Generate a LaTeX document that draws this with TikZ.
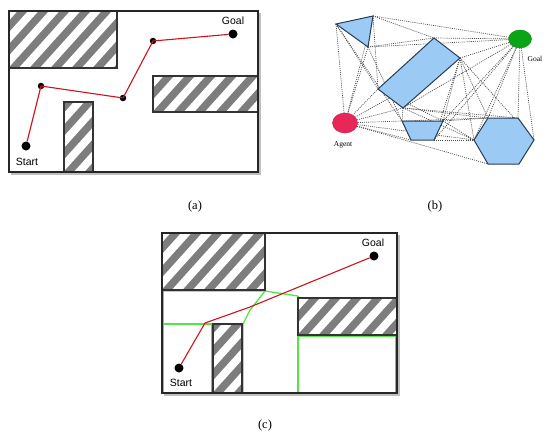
\documentclass[tikz,border=0pt]{standalone}
\usepackage{fontspec}
\usetikzlibrary{shapes.geometric}
\setmainfont{Liberation Serif}
\newfontfamily\mapfont{Liberation Sans}

\definecolor{stripegray}{RGB}{125,125,125}
\definecolor{polyblue}{RGB}{155,203,245}
\definecolor{polyedge}{RGB}{40,60,85}
\definecolor{goalgreen}{RGB}{10,165,20}
\definecolor{agentred}{RGB}{232,38,88}
\definecolor{routered}{RGB}{205,20,30}
\definecolor{cellgreen}{RGB}{80,230,70}

\tikzset{
  hatchline/.style={stripegray, line width=7.5pt},
  blockedge/.style={draw=black!80, line width=1.1pt},
  mapframe/.style={draw=black!85, line width=1.6pt},
  mapshadow/.style={draw=black!25, line width=1.5pt},
  route/.style={draw=routered, line width=1.1pt},
  bigdot/.style={circle, fill=black, inner sep=0pt, minimum size=9pt},
  smalldot/.style={circle, fill=black, inner sep=0pt, minimum size=6.5pt},
  cell/.style={draw=cellgreen, line width=1.3pt},
  visline/.style={draw=black!70, line width=0.7pt, dash pattern=on 1pt off 1.1pt},
  obstacle/.style={fill=polyblue, draw=polyedge, line width=1pt},
  maplabel/.style={font=\mapfont\fontsize{10.5}{11}\selectfont},
  tinylabel/.style={font=\fontsize{7.5}{8}\selectfont},
  caption/.style={font=\fontsize{12.5}{13}\selectfont}
}

% striped block: x1 y1 x2 y2 (y grows downward)
\newcommand{\hatchblock}[4]{%
  \begin{scope}
    \clip (#1,#2) rectangle (#3,#4);
    \fill[white] (#1,#2) rectangle (#3,#4);
    \foreach \s in {-105,-84,...,126}
      \draw[hatchline] (#1+\s,#4+5) -- ++(90,-100);
  \end{scope}
  \draw[blockedge] (#1,#2) rectangle (#3,#4);
}

\begin{document}
\begin{tikzpicture}[x=1pt,y=-1pt]
\useasboundingbox (0,0) rectangle (550,437);

% (a) path through free space
\draw[mapshadow] (11,174) -- (260,174) -- (260,13);
\draw[mapframe, fill=white] (9,11) rectangle (258,172);
\hatchblock{9}{11}{117}{68}
\hatchblock{153}{76}{258}{112}
\hatchblock{64}{102}{93}{172}
\draw[mapframe] (9,11) rectangle (258,172);
\node[bigdot] (aStart) at (26,146) {};
\node[smalldot] (aP1) at (41,86) {};
\node[smalldot] (aP2) at (123,98) {};
\node[smalldot] (aP3) at (153,41) {};
\node[bigdot] (aGoal) at (233,34) {};
\draw[route] (aStart) -- (aP1.center) -- (aP2.center) -- (aP3.center) -- (aGoal);
\node[maplabel] (aStartTxt) at (27,162) {Start};
\node[maplabel] (aGoalTxt) at (233,21) {Goal};
\node[caption] (capA) at (195,206) {(a)};

% (b) visibility graph
\coordinate (t1) at (336,24);
\coordinate (t2) at (373,16);
\coordinate (t3) at (368,47);
\coordinate (r1) at (434,38);
\coordinate (r2) at (460,58);
\coordinate (r3) at (403,108);
\coordinate (r4) at (378,89);
\coordinate (q1) at (402,121);
\coordinate (q2) at (443,121);
\coordinate (q3) at (434,140);
\coordinate (q4) at (411,140);
\coordinate (h1) at (474,140);
\coordinate (h2) at (488,118);
\coordinate (h3) at (518,118);
\coordinate (h4) at (534,140);
\coordinate (h5) at (519,164);
\coordinate (h6) at (488,164);
\node[ellipse, draw=goalgreen!85!black, fill=goalgreen, minimum width=23pt, minimum height=18pt, inner sep=0pt] (bGoal) at (520,39) {};
\node[ellipse, draw=agentred!85!black, fill=agentred, minimum width=25pt, minimum height=20pt, inner sep=0pt] (bAgent) at (345,123) {};
\foreach \u/\v in {t2/bGoal, t2/r1, t3/r1, t3/bGoal, t1/bAgent, t1/r4, t1/q1,
    t2/r4, t2/bAgent, t3/bAgent, t3/q1, r1/bGoal, r2/bGoal, r2/h1, r2/h2,
    r2/h4, r2/q2, r2/q3, r3/q1, r3/h2, r3/h1, r3/bGoal, r4/bAgent,
    bAgent/r3, bAgent/q1, bAgent/q4, bAgent/h6, bAgent/r2, bAgent/h1,
    bGoal/h3, bGoal/h4, bGoal/h2, bGoal/q2, bGoal/h1, bGoal/q3,
    q3/h1, q2/h2, q2/h1, q1/h2, r3/h3, r4/q2}
  \draw[visline] (\u) -- (\v);
\draw[obstacle] (t1) -- (t2) -- (t3) -- cycle;
\draw[obstacle] (r1) -- (r2) -- (r3) -- (r4) -- cycle;
\draw[obstacle] (q1) -- (q2) -- (q3) -- (q4) -- cycle;
\draw[obstacle] (h1) -- (h2) -- (h3) -- (h4) -- (h5) -- (h6) -- cycle;
\node[tinylabel] (bGoalTxt) at (535,59) {Goal};
\node[tinylabel] (bAgentTxt) at (343,145) {Agent};
\node[caption] (capB) at (435,206) {(b)};

% (c) cell decomposition
\draw[mapshadow] (164,395) -- (399,395) -- (399,235);
\draw[mapframe, fill=white] (162,233) rectangle (397,393);
\coordinate (c1) at (163,291);
\coordinate (c2) at (265,291);
\coordinate (c3) at (298,296);
\coordinate (c4) at (250,310);
\coordinate (c5) at (243,324);
\coordinate (c6) at (243,392);
\coordinate (c7) at (163,324);
\coordinate (c8) at (212,324);
\coordinate (c9) at (212,392);
\coordinate (c10) at (163,392);
\coordinate (c11) at (298,392);
\coordinate (c12) at (298,336);
\coordinate (c13) at (396,336);
\coordinate (c14) at (396,392);
\draw[cell] (c1) -- (c2) -- (c3);
\draw[cell] (c2) -- (c4) -- (c5) -- (c6);
\draw[cell] (c7) -- (c8) -- (c9);
\draw[cell] (c1) -- (c10);
\draw[cell] (c3) -- (c11);
\draw[cell] (c12) -- (c13) -- (c14);
\hatchblock{162}{233}{265}{290}
\hatchblock{298}{298}{397}{335}
\hatchblock{213}{324}{242}{393}
\draw[mapframe] (162,233) rectangle (397,393);
\node[bigdot] (cStart) at (179,368) {};
\coordinate (cP1) at (205,323);
\coordinate (cP2) at (250,307);
\node[bigdot] (cGoal) at (374,256) {};
\draw[route] (cStart) -- (cP1) -- (cP2) -- (cGoal);
\node[maplabel] (cStartTxt) at (181,383) {Start};
\node[maplabel] (cGoalTxt) at (373,243) {Goal};
\node[caption] (capC) at (265,425) {(c)};
\end{tikzpicture}
\end{document}
